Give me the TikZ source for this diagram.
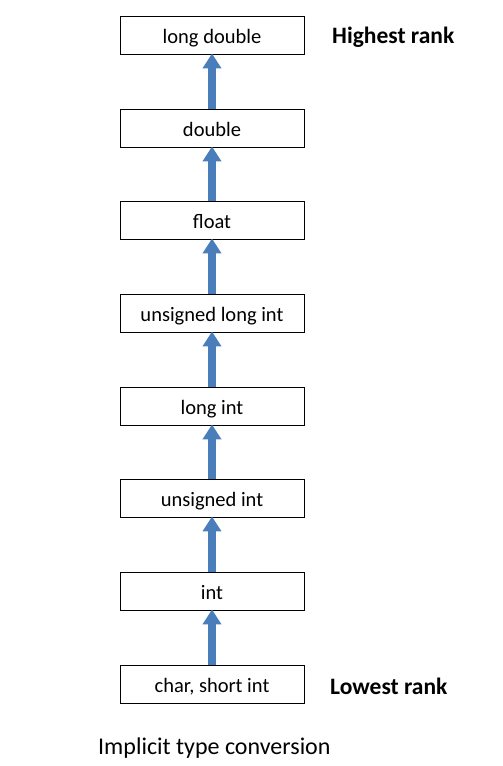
\documentclass[tikz,border=0pt]{standalone}
\usepackage{fontspec}
\setmainfont{Carlito}
\usetikzlibrary{arrows.meta}
\definecolor{upblue}{HTML}{4A7EBB}
\begin{document}
\begin{tikzpicture}[x=1pt,y=-1pt]
        \tikzset{
            tp/.style={rectangle, draw=black, line width=0.9pt, fill=white,
            minimum width=184pt, minimum height=38pt, inner sep=0pt,
            text height=19pt, text depth=3pt,
            font=\fontsize{20.5}{24}\selectfont},
            rk/.style={anchor=base west, inner sep=0pt, font=\fontsize{23.5}{28}\selectfont\bfseries},
            up/.style={draw=upblue, line width=8pt, -{Triangle[width=18pt,length=15pt]}}
            }
            \useasboundingbox[fill=white] (0,0) rectangle (503,766);

            \node[tp] (n1) at (212,35) {long double};
            \node[tp] (n2) at (212,128) {double};
            \node[tp] (n3) at (212,220) {float};
            \node[tp] (n4) at (212,313) {unsigned long int};
            \node[tp] (n5) at (212,406) {long int};
            \node[tp] (n6) at (212,498) {unsigned int};
            \node[tp] (n7) at (212,591) {int};
            \node[tp] (n8) at (212,684.5) {char, short int};

            \node[rk] (hi) at (332,43) {Highest rank};
            \node[rk] (lo) at (330,694) {Lowest rank};
            \node[anchor=base west, inner sep=0pt, font=\fontsize{24}{28}\selectfont] (cap) at (98,754) {Implicit type conversion};

            \draw[up] (n2.north) -- ([yshift=1pt]n1.south);
            \draw[up] (n3.north) -- ([yshift=1pt]n2.south);
            \draw[up] (n4.north) -- ([yshift=1pt]n3.south);
            \draw[up] (n5.north) -- ([yshift=1pt]n4.south);
            \draw[up] (n6.north) -- ([yshift=1pt]n5.south);
            \draw[up] (n7.north) -- ([yshift=1pt]n6.south);
            \draw[up] (n8.north) -- ([yshift=1pt]n7.south);
        \end{tikzpicture}
\end{document}
